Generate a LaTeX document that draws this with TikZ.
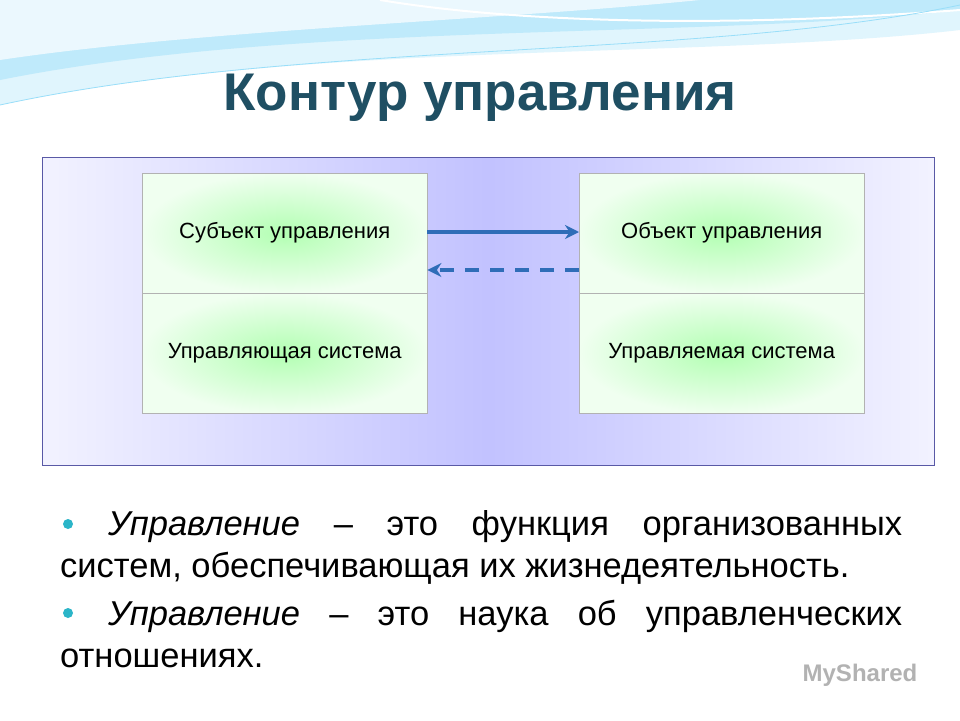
\documentclass[tikz,border=0pt]{standalone}
\usepackage{fontspec}
\setmainfont{Liberation Sans}
\usetikzlibrary{arrows.meta}
\definecolor{ttl}{HTML}{1F4F63}
\definecolor{arr}{HTML}{2F6DB8}
\definecolor{teal}{HTML}{2BB5C8}
\tikzset{
  box/.style={draw=gray!60, inner color=green!30!white, outer color=green!6!white, minimum width=285pt, minimum height=120pt, font=\fontsize{22}{26}\selectfont},
  line/.style={anchor=base west, font=\fontsize{34.5}{38}\selectfont, inner sep=0pt},
  dot/.style={circle, fill=teal, inner sep=0pt, minimum size=10pt},
  conn/.style={arr, line width=4pt, -{Stealth[length=14pt,width=14pt]}}
}
\begin{document}
\begin{tikzpicture}[x=1pt,y=-1pt]
\useasboundingbox (0,0) rectangle (960,720);
\fill[white] (0,0) rectangle (960,720);
% top waves
\fill[cyan!12] (0,0) -- (960,0) -- (960,30) .. controls (700,60) and (300,40) .. (0,105) -- cycle;
\fill[cyan!25] (0,0) -- (960,0) -- (960,10) .. controls (700,40) and (300,20) .. (0,80) -- cycle;
\fill[cyan!8] (0,0) -- (700,0) .. controls (500,20) and (200,30) .. (0,60) -- cycle;
\draw[white, line width=2pt] (380,0) .. controls (500,20) and (700,30) .. (960,10);
\draw[cyan!40, line width=0.8pt] (0,105) .. controls (300,40) and (700,60) .. (960,5);
% title
\node[font=\bfseries\fontsize{53}{58}\selectfont, text=ttl] (title) at (480,98) {Контур управления};
% panel
\node[draw=gray!70!blue, line width=0.8pt, left color=blue!5!white, right color=blue!5!white, middle color=blue!24!white, minimum width=892pt, minimum height=308pt, anchor=north west] (panel) at (42,157) {};
\node[box, anchor=north west] (s1) at (142,173) {Субъект управления};
\node[box, anchor=north west] (s2) at (142,293) {Управляющая система};
\node[box, anchor=north west] (o1) at (579,173) {Объект управления};
\node[box, anchor=north west] (o2) at (579,293) {Управляемая система};
\draw[conn] (s1.east|-0,232) -- (o1.west|-0,232);
\draw[conn, dash pattern=on 14pt off 11pt] (o1.west|-0,270) -- (s1.east|-0,270);
% bullets
\node[dot] (d1) at (68,524) {};
\node[dot] (d2) at (68,613) {};
\node[line] (l1) at (108,535) {\hbox to 794pt{\itshape Управление\hfill\upshape –\hfill это\hfill функция\hfill организованных}};
\node[line] (l2) at (60,577) {систем, обеспечивающая их жизнедеятельность.};
\node[line] (l3) at (108,625) {\hbox to 794pt{\itshape Управление\hfill\upshape –\hfill это\hfill наука\hfill об\hfill управленческих}};
\node[line] (l4) at (60,667) {отношениях.};
\node[font=\bfseries\fontsize{24}{26}\selectfont, text=gray!60] (wm) at (860,675) {MyShared};
\end{tikzpicture}
\end{document}
